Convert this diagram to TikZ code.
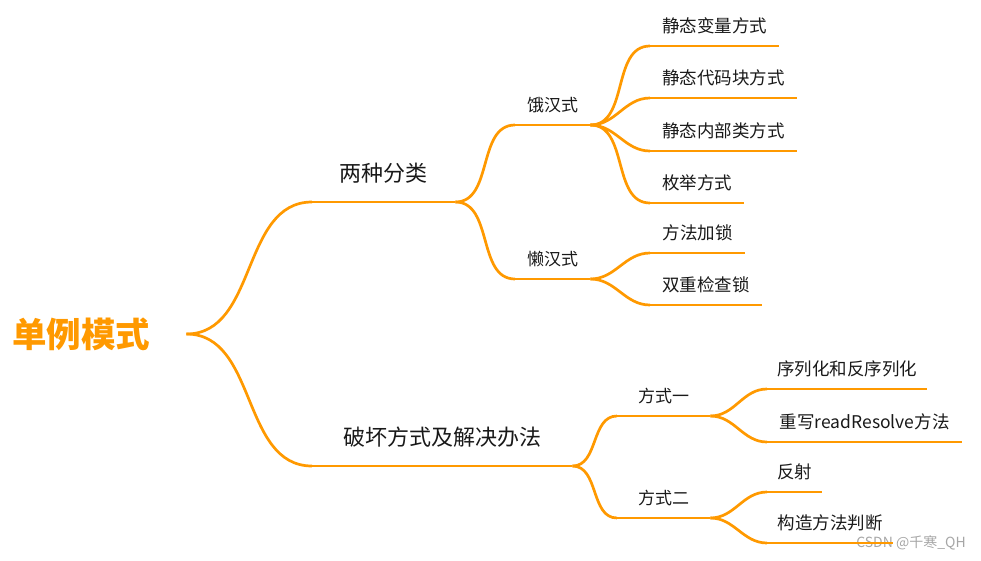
\documentclass[tikz,border=0pt]{standalone}
\usepackage{fontspec}
\setmainfont{Noto Sans CJK SC}
\definecolor{mindorange}{HTML}{FF9900}
\tikzset{
  branch/.style={draw=mindorange, line width=2.7pt},
  link/.style={branch, out=0, in=180},
  topic/.style={anchor=south west, inner xsep=0pt, inner ysep=13.4pt, text depth=0pt,
    font=\fontsize{17.5}{20}\selectfont, text=black!90},
  maintopic/.style={topic, inner ysep=20.6pt, font=\fontsize{22}{26}\selectfont}
}
\begin{document}
\begin{tikzpicture}[x=1pt, y=-1pt]
    \useasboundingbox (0,0) rectangle (981,560);

    \node[anchor=west, inner xsep=0pt, text width=174pt, align=left, text=mindorange,
      font=\fontsize{34.5}{40}\bfseries] (root) at (12,334) {单例模式};

    \node[maintopic, minimum width=143pt] (kinds) at (312,202) {两种分类};
    \node[maintopic, minimum width=260pt] (breaks) at (312,466) {破坏方式及解决办法};

    \node[topic, minimum width=75pt, font=\fontsize{17}{20}\selectfont] (eager) at (515,125) {饿汉式};
    \node[topic, minimum width=75pt, font=\fontsize{17}{20}\selectfont] (lazy) at (515,279) {懒汉式};
    \node[topic, minimum width=93pt, font=\fontsize{17}{20}\selectfont] (wayone) at (617,416) {方式一};
    \node[topic, minimum width=93pt, font=\fontsize{17}{20}\selectfont] (waytwo) at (617,518) {方式二};

    \node[topic, minimum width=129pt] (staticvar) at (650,46) {静态变量方式};
    \node[topic, minimum width=147pt] (staticblock) at (650,98) {静态代码块方式};
    \node[topic, minimum width=147pt] (innerclass) at (650,151) {静态内部类方式};
    \node[topic, minimum width=94pt] (enumway) at (650,203) {枚举方式};
    \node[topic, minimum width=95pt] (synclock) at (650,253) {方法加锁};
    \node[topic, minimum width=112pt] (doublecheck) at (650,305) {双重检查锁};
    \node[topic, minimum width=160pt] (serial) at (767,389) {序列化和反序列化};
    \node[topic, minimum width=195pt] (readresolve) at (767,442) {重写readResolve方法};
    \node[topic, minimum width=55pt] (reflect) at (767,492) {反射};
    \node[topic, minimum width=126pt] (ctorcheck) at (767,543) {构造方法判断};

    \node[text=black!35, font=\fontsize{14}{16}\selectfont] (mark) at (911,543) {CSDN @千寒\_QH};

    % underlines
    \foreach \n in {kinds,breaks,eager,lazy,wayone,waytwo,staticvar,staticblock,innerclass,
      enumway,synclock,doublecheck,serial,readresolve,reflect,ctorcheck}
      \path (\n.south west) edge[branch] (\n.south east);

    % branches
    \path (root.east) edge[link] (kinds.south west)
                      edge[link] (breaks.south west);
    \path (kinds.south east) edge[link] (eager.south west)
                             edge[link] (lazy.south west);
    \path (breaks.south east) edge[link] (wayone.south west)
                              edge[link] (waytwo.south west);
    \path (eager.south east) edge[link] (staticvar.south west)
                             edge[link] (staticblock.south west)
                             edge[link] (innerclass.south west)
                             edge[link] (enumway.south west);
    \path (lazy.south east) edge[link] (synclock.south west)
                            edge[link] (doublecheck.south west);
    \path (wayone.south east) edge[link] (serial.south west)
                              edge[link] (readresolve.south west);
    \path (waytwo.south east) edge[link] (reflect.south west)
                              edge[link] (ctorcheck.south west);
\end{tikzpicture}
\end{document}
